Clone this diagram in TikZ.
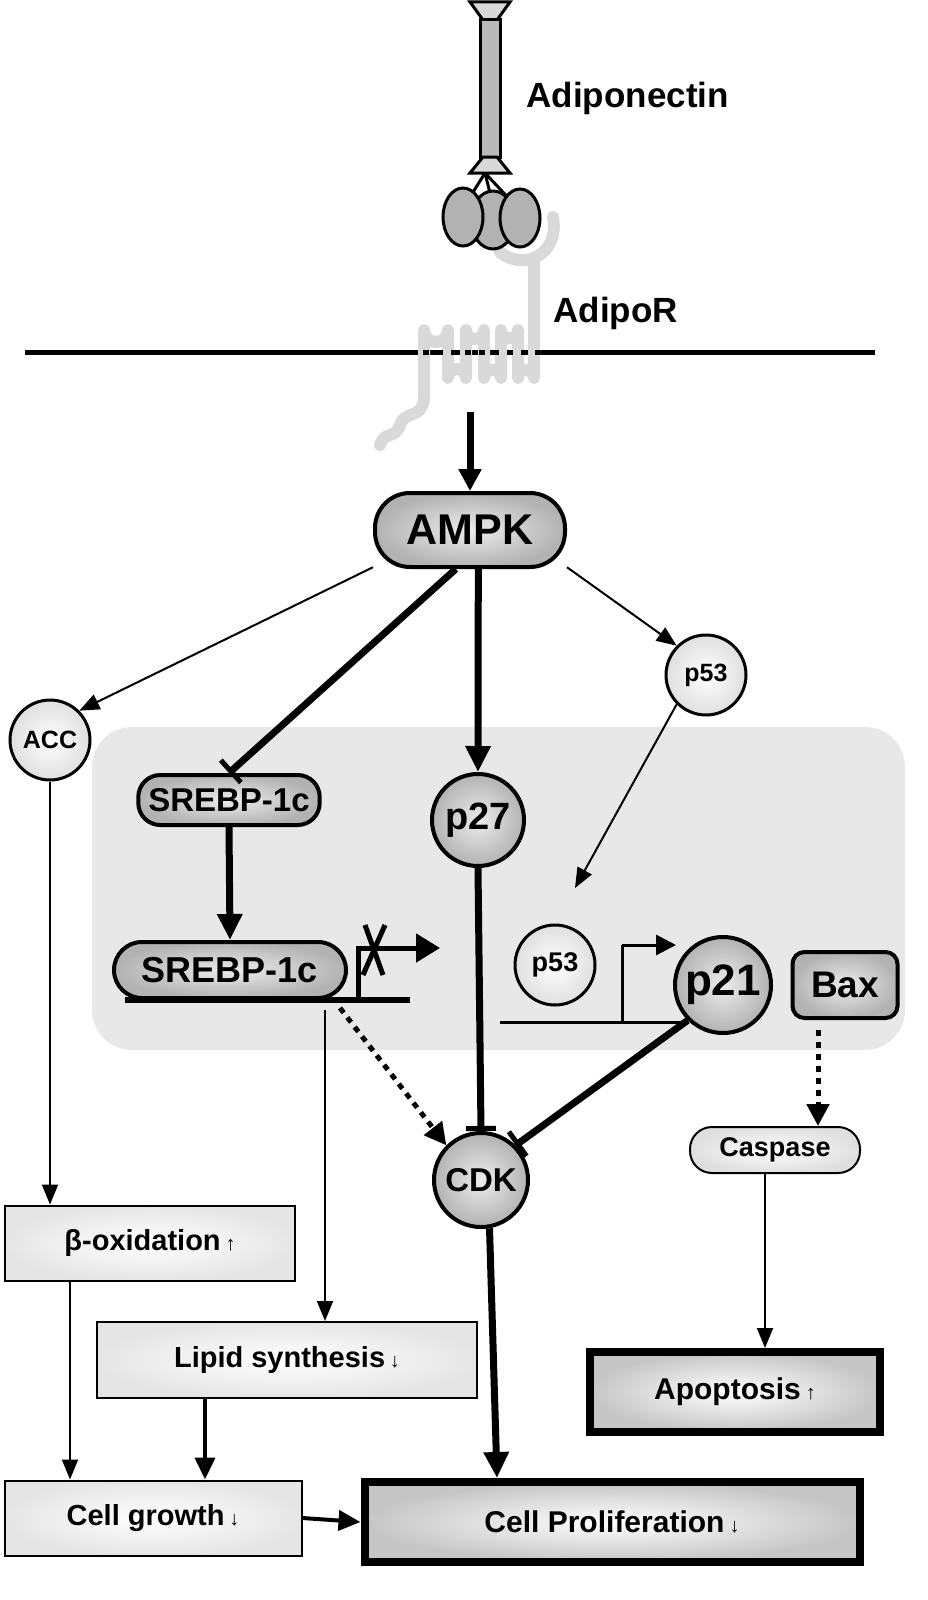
\documentclass[tikz,border=0pt]{standalone}
\usepackage{fontspec}
\setmainfont{Liberation Sans}
\usetikzlibrary{arrows.meta,shapes.geometric}
\begin{document}
\begin{tikzpicture}[x=1pt,y=-1pt,
 sh/.style={draw=black,line width=4pt,inner color=gray!15,outer color=gray!60},
 shl/.style={draw=black,line width=3pt,inner color=white,outer color=gray!25},
 pill/.style={sh,rounded corners=22pt,font=\bfseries\fontsize{33}{33}\selectfont,inner sep=0pt},
 circ/.style={sh,circle,inner sep=0pt,font=\bfseries\fontsize{38}{38}\selectfont},
 lcirc/.style={shl,circle,inner sep=0pt,font=\bfseries\fontsize{25}{25}\selectfont},
 box/.style={draw=black,line width=2pt,inner color=white,outer color=gray!20,font=\bfseries\fontsize{29}{29}\selectfont,inner sep=0pt},
 bbox/.style={draw=black,line width=8pt,inner color=white,outer color=gray!45,font=\bfseries\fontsize{30}{30}\selectfont,inner sep=0pt},
 thin/.style={line width=2pt,-{Triangle[length=20pt,width=16pt]}},
 thk/.style={line width=7pt,-{Triangle[length=26pt,width=24pt]}},
 inh/.style={line width=7pt,-{Bar[width=30pt,line width=5pt]}},
 dots/.style={line width=5pt,dash pattern=on 6pt off 6pt,-{Triangle[length=22pt,width=22pt]}}]
\useasboundingbox (0,0) rectangle (927,1600);
% background box
\fill[gray!18,rounded corners=40pt] (92,727) rectangle (905,1050);
% membrane
\draw[line width=5pt] (25,352) -- (875,352);
% receptor
\draw[gray!30,line width=12pt,line cap=round,line join=round]
 (380,445) .. controls (385,430) and (395,440) .. (400,425) .. controls (405,410) and (420,420) .. (424,400)
 -- (424,330) arc[start angle=180,end angle=0,radius=12] -- (448,378) arc[start angle=180,end angle=360,radius=9]
 -- (466,330) arc[start angle=180,end angle=0,radius=9] -- (484,378) arc[start angle=180,end angle=360,radius=8.5]
 -- (501,330) arc[start angle=180,end angle=0,radius=8.5] -- (518,378) arc[start angle=180,end angle=360,radius=8]
 -- (534,262);
\draw[gray!30,line width=12pt,line cap=round] (500,252) .. controls (520,270) and (560,258) .. (553,217);
\draw[line width=5pt,dash pattern=on 6pt off 8pt] (423,352) -- (540,352);
% adiponectin
\draw[line width=3pt] (485,173) -- (465,205) (485,173) -- (493,205) (485,173) -- (515,205);
\draw[line width=3pt,fill=gray!60] (493,220) ellipse[x radius=22,y radius=29];
\draw[line width=3pt,fill=gray!60] (463,217) ellipse[x radius=20,y radius=29];
\draw[line width=3pt,fill=gray!60] (520,218) ellipse[x radius=20,y radius=29];
\draw[line width=3pt,fill=gray!30] (470,2) -- (510,2) -- (497,20) -- (483,20) -- cycle;
\draw[line width=3pt,fill=gray!55] (480,20) rectangle (500,157);
\draw[line width=3pt,fill=gray!30] (483,157) -- (497,157) -- (510,173) -- (470,173) -- cycle;
\node[anchor=west,font=\bfseries\fontsize{35}{35}\selectfont] (adipo) at (523,98) {Adiponectin};
\node[anchor=west,font=\bfseries\fontsize{35}{35}\selectfont] (adipor) at (550,313) {AdipoR};
\coordinate (rtop) at (470,412);
% nodes
\node[pill,minimum width=190pt,minimum height=74pt,rounded corners=35pt,font=\bfseries\fontsize{43}{43}\selectfont] (ampk) at (470,530) {AMPK};
\node[lcirc,minimum size=80pt] (acc) at (50,740) {ACC};
\node[lcirc,minimum size=80pt] (p53a) at (706,675) {p53};
\node[pill,minimum width=170pt,minimum height=50pt,inner xsep=10pt] (sreb1) at (229,800) {SREBP-1c};
\node[circ,minimum size=92pt] (p27) at (478,820) {p27};
\node[pill,minimum width=232pt,minimum height=56pt,rounded corners=28pt,font=\bfseries\fontsize{36}{36}\selectfont] (sreb2) at (230,970) {SREBP-1c};
\node[lcirc,minimum size=80pt,font=\bfseries\fontsize{27}{27}\selectfont] (p53b) at (555,965) {p53};
\node[circ,minimum size=96pt,font=\bfseries\fontsize{44}{44}\selectfont] (p21) at (723,985) {p21};
\node[sh,rounded corners=12pt,minimum width=105pt,minimum height=66pt,font=\bfseries\fontsize{37}{37}\selectfont,inner sep=0pt] (bax) at (845,985) {Bax};
\node[circ,minimum size=94pt,font=\bfseries\fontsize{33}{33}\selectfont] (cdk) at (481,1180) {CDK};
\node[shl,rounded corners=22pt,minimum width=170pt,minimum height=46pt,inner sep=0pt,line width=2pt,font=\bfseries\fontsize{27}{27}\selectfont] (casp) at (775,1150) {Caspase};
\node[box,minimum width=290pt,minimum height=75pt] (box1) at (150,1243) {β-oxidation\,{\fontsize{20}{20}\selectfont↑}};
\node[box,minimum width=380pt,minimum height=76pt] (lip) at (287,1360) {Lipid synthesis\,{\fontsize{20}{20}\selectfont↓}};
\node[box,minimum width=297pt,minimum height=75pt] (grow) at (153,1518) {Cell growth\,{\fontsize{20}{20}\selectfont↓}};
\node[bbox,minimum width=495pt,minimum height=80pt] (prol) at (612,1522) {Cell Proliferation\,{\fontsize{20}{20}\selectfont↓}};
\node[bbox,minimum width=290pt,minimum height=80pt] (apop) at (735,1392) {Apoptosis\,{\fontsize{20}{20}\selectfont↑}};
% DNA lines
\draw[line width=6pt] (125,1000) -- (410,1000);
\draw[line width=5pt] (358,1000) -- (358,948) -- (395,948);
\draw[line width=5pt,-{Triangle[length=24pt,width=28pt]}] (390,948) -- (440,948);
\draw[line width=5pt] (365,925) -- (383,975) (385,925) -- (363,975);
\draw[line width=3pt] (500,1022) -- (685,1022);
\draw[line width=3pt] (622,1022) -- (622,945);
\draw[line width=3pt,-{Triangle[length=20pt,width=20pt]}] (622,945) -- (676,945);
% connectors
\draw[line width=7pt,-{Triangle[length=22pt,width=22pt]}] (rtop) -- (ampk.north);
\draw[thin] (ampk.201) -- (acc.north east);
\draw[thin] (ampk.-21) -- (p53a.north west);
\draw[inh] (ampk.250) -- (sreb1.north);
\draw[thk] (ampk.282) -- (p27.north);
\draw[thin] (p53a.south west) -- (575,888);
\draw[thk] (sreb1.south) -- (sreb2.north);
\draw[inh] (p27.south) -- (cdk.north);
\draw[inh] (p21.south west) -- (cdk.north east);
\draw[dots] (340,1008) -- (cdk.north west);
\draw[dots] (818,1030) -- (casp.north -| 818,0);
\draw[thin] (325,1010) -- (lip.north -| 325,0);
\draw[thin] (acc.south) -- (box1.north -| 50,0);
\draw[thin] (box1.south -| 70,0) -- (grow.north -| 70,0);
\draw[line width=4pt,-{Triangle[length=22pt,width=20pt]}] (lip.south -| 205,0) -- (grow.north -| 205,0);
\draw[line width=4pt,-{Triangle[length=22pt,width=20pt]}] (grow.east) -- (prol.west);
\draw[thk] (cdk.-80) -- (prol.north -| 497,0);
\draw[thin] (casp.south -| 765,0) -- (apop.north -| 765,0);
\end{tikzpicture}
\end{document}
